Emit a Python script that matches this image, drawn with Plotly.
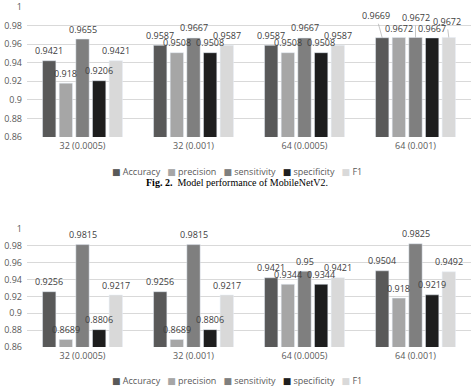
import plotly.graph_objects as go

categories = ["32 (0.0005)", "32 (0.001)", "64 (0.0005)", "64 (0.001)"]
metrics = ["Accuracy", "precision", "sensitivity", "specificity", "F1"]

# Top chart (Fig. 2, MobileNetV2)
top_accuracy = [0.9421, 0.9587, 0.9587, 0.9669]
top_precision = [0.918, 0.9508, 0.9508, 0.9672]
top_sensitivity = [0.9655, 0.9667, 0.9667, 0.9672]
top_specificity = [0.9206, 0.9508, 0.9508, 0.9667]
top_f1 = [0.9421, 0.9587, 0.9587, 0.9672]

# Bottom chart
bot_accuracy = [0.9256, 0.9256, 0.9421, 0.9504]
bot_precision = [0.8689, 0.8689, 0.9344, 0.918]
bot_sensitivity = [0.9815, 0.9815, 0.95, 0.9825]
bot_specificity = [0.8806, 0.8806, 0.9344, 0.9219]
bot_f1 = [0.9217, 0.9217, 0.9421, 0.9492]

y_ticks = [0.86, 0.88, 0.9, 0.92, 0.94, 0.96, 0.98, 1]

# ---- style ----
colors = ["#595959", "#a6a6a6", "#7f7f7f", "#1e1e1e", "#d9d9d9"]
font = "Open Sans, DejaVu Sans, sans-serif"
txtcol = "#404040"
W, H = 474, 387
xdom = [27 / W, 471 / W]
cat_px = (xdom[1] - xdom[0]) * W / len(categories)
bargap, bargroupgap = 0.25, 0.2
pitch = cat_px * (1 - bargap) / len(metrics)
# label offsets (x, y in px) for staggered labels in top chart, 64 (0.001)
stagger = {(3, 0): (-6, 22), (3, 1): (0, 9), (3, 2): (0, 20), (3, 3): (0, 9), (3, 4): (-2, 16)}

fig = go.Figure()
annotations = []

top_series = [top_accuracy, top_precision, top_sensitivity, top_specificity, top_f1]
bot_series = [bot_accuracy, bot_precision, bot_sensitivity, bot_specificity, bot_f1]

for panel, (series, xa, ya) in enumerate([(top_series, "x", "y"), (bot_series, "x2", "y2")]):
    for k, (name, vals, col) in enumerate(zip(metrics, series, colors)):
        fig.add_trace(go.Bar(
            x=categories, y=vals, name=name, marker_color=col,
            xaxis=xa, yaxis=ya, showlegend=False,
        ))
        for i, (c, v) in enumerate(zip(categories, vals)):
            xs = (k - 2) * pitch
            dx, dy = (0, 10)
            if panel == 0 and (i, k) in stagger:
                dx, dy = stagger[(i, k)]
            a = dict(x=c, y=v, xref=xa, yref=ya, text=str(v),
                     font=dict(size=9, color=txtcol, family=font),
                     xanchor="center", yanchor="middle")
            if dy > 12:
                a.update(showarrow=True, arrowhead=0, arrowwidth=0.6, arrowcolor="#a0a0a0",
                         ax=dx, ay=-dy, xshift=xs, standoff=0)
            else:
                a.update(showarrow=False, xshift=xs + dx, yshift=dy)
            annotations.append(a)

axis_common = dict(showline=False, ticks="", ticklabeloverflow="allow",
                   tickfont=dict(size=9, color="#595959", family=font))
yaxis_common = dict(range=[0.86, 1], tickvals=y_ticks, ticktext=[("%g" % t) for t in y_ticks],
                    showgrid=True, gridcolor="#d9d9d9", gridwidth=1, zeroline=False,
                    ticklabelstandoff=4, **axis_common)

legend_text = "   ".join(
    f"<span style='color:{c}'>■</span> {m}" for m, c in zip(metrics, colors)
)
for ly in (171, 380):
    annotations.append(dict(
        text=legend_text, x=0.5, y=1 - ly / H, xref="paper", yref="paper",
        showarrow=False, xanchor="center", yanchor="middle",
        font=dict(size=9, color="#595959", family=font),
    ))

annotations.append(dict(
    text="<b>Fig. 2.</b>  Model performance of MobileNetV2.",
    x=0.5, y=1 - 183 / H, xref="paper", yref="paper", showarrow=False,
    xanchor="center", yanchor="middle",
    font=dict(size=10, color="#000000", family="Liberation Serif, serif"),
))

fig.update_layout(
    width=W, height=H,
    margin=dict(l=0, r=0, t=0, b=0, autoexpand=False),
    paper_bgcolor="white", plot_bgcolor="white",
    barmode="group", bargap=bargap, bargroupgap=bargroupgap,
    showlegend=False,
    font=dict(family=font, color=txtcol),
    xaxis=dict(domain=xdom, anchor="y", ticklabelstandoff=2, **axis_common),
    yaxis=dict(domain=[1 - 137 / H, 1 - 7 / H], anchor="x", **yaxis_common),
    xaxis2=dict(domain=xdom, anchor="y2", ticklabelstandoff=2, **axis_common),
    yaxis2=dict(domain=[1 - 347 / H, 1 - 229 / H], anchor="x2", **yaxis_common),
    annotations=annotations,
)

fig.write_html("out.html", config={"displayModeBar": False},
               post_script="document.body.style.margin='0';document.body.style.overflow='hidden';")
